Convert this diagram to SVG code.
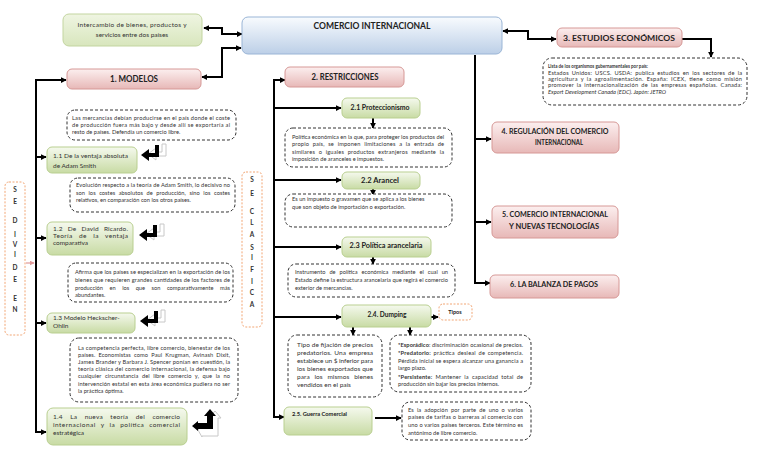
<svg xmlns="http://www.w3.org/2000/svg" width="768" height="466" viewBox="0 0 768 466">
<style>
.t{font-family:Lato,"Open Sans","Liberation Sans",sans-serif;font-size:5.7px;fill:#333}
.l{font-family:Lato,"Open Sans","Liberation Sans",sans-serif;font-size:6.5px;fill:#333}
.h{font-family:Lato,"Open Sans","Liberation Sans",sans-serif;font-weight:bold;fill:#222}
.v{font-family:Lato,"Liberation Sans",sans-serif;font-weight:bold;font-size:6.5px;fill:#333;text-anchor:middle}
.dash{fill:#fff;stroke:#333;stroke-width:1;stroke-dasharray:3 2}
.odash{fill:#fff;stroke:#f2a675;stroke-width:1;stroke-dasharray:2 1.5}
.green{fill:url(#gG);stroke:#b9cf90;stroke-width:1}
.pink{fill:url(#gP);stroke:#d69896;stroke-width:1}
.con{fill:none;stroke:#000;stroke-width:2}
.ba{fill:#000}
.bs{fill:#fff;stroke:#c8c8c8;stroke-width:1}
</style>
<defs>
<linearGradient id="gG" x1="0" y1="0" x2="0" y2="1"><stop offset="0" stop-color="#f5f9ee"/><stop offset="1" stop-color="#c8dba4"/></linearGradient>
<linearGradient id="gI" x1="0" y1="0" x2="0" y2="1"><stop offset="0" stop-color="#eff5e2"/><stop offset="1" stop-color="#d8e6bd"/></linearGradient>
<linearGradient id="gP" x1="0" y1="0" x2="0" y2="1"><stop offset="0" stop-color="#fcefef"/><stop offset="1" stop-color="#e7b8b7"/></linearGradient>
<linearGradient id="gB" x1="0" y1="0" x2="0" y2="1"><stop offset="0" stop-color="#f8fbfe"/><stop offset="1" stop-color="#bccfe7"/></linearGradient>
<marker id="ar" viewBox="0 0 8 8" refX="7" refY="4" markerWidth="6" markerHeight="6" markerUnits="userSpaceOnUse" orient="auto-start-reverse"><path d="M0,0 L8,4 L0,8 Z" fill="#000"/></marker>
<marker id="arp" viewBox="0 0 8 8" refX="7" refY="4" markerWidth="5" markerHeight="5" markerUnits="userSpaceOnUse" orient="auto"><path d="M0,0 L8,4 L0,8 Z" fill="#e09a9a"/></marker>
<path id="bentL" d="M0,10 L8,4 L8,8 L14,8 L14,0 L18,0 L18,12 L8,12 L8,16 Z"/>
</defs>
<rect width="768" height="466" fill="#fff"/>

<g id="connectors">
<path class="con" d="M242,34 H222 V28 H204" marker-start="url(#ar)" marker-end="url(#ar)"/>
<path class="con" d="M202,77 H222 V48 H241" marker-start="url(#ar)" marker-end="url(#ar)"/>
<path class="con" d="M46,432 H36 V80 H66" marker-start="url(#ar)" marker-end="url(#ar)"/>
<path class="con" d="M36,157 H46" marker-end="url(#ar)"/>
<path class="con" d="M36,238 H46" marker-end="url(#ar)"/>
<path class="con" d="M36,323 H46" marker-end="url(#ar)"/>
<path d="M26,263 H34" stroke="#e09a9a" stroke-width="1.2" fill="none" marker-end="url(#arp)"/>
<path class="con" d="M284,417 H274 V80 H285" marker-start="url(#ar)" marker-end="url(#ar)"/>
<path class="con" d="M274,108 H341" marker-end="url(#ar)"/>
<path class="con" d="M274,180 H341" marker-end="url(#ar)"/>
<path class="con" d="M274,247 H341" marker-end="url(#ar)"/>
<path class="con" d="M274,317 H341" marker-end="url(#ar)"/>
<path class="con" d="M373,118 V128" marker-end="url(#ar)"/>
<path class="con" d="M373,189 V195" marker-end="url(#ar)"/>
<path class="con" d="M373,257 V264" marker-end="url(#ar)"/>
<path class="con" d="M353,327 V335" marker-end="url(#ar)"/>
<path class="con" d="M410,327 V335" marker-end="url(#ar)"/>
<path class="con" d="M431,317 H438" marker-end="url(#ar)"/>
<path class="con" d="M375,418 H401" marker-end="url(#ar)"/>
<path class="con" d="M503,31 H528 V39 H556" marker-start="url(#ar)" marker-end="url(#ar)"/>
<path class="con" d="M682,39 H711 V57" marker-end="url(#ar)"/>
<path class="con" d="M475,55 V283 H490" marker-end="url(#ar)"/>
<path class="con" d="M475,139 H491" marker-end="url(#ar)"/>
<path class="con" d="M475,222 H491" marker-end="url(#ar)"/>
</g>

<g id="comercio">
<rect x="242" y="17" width="260" height="37" rx="6" fill="url(#gB)" stroke="#9ab5d6"/>
<text class="h" x="372" y="29" font-size="9.5" text-anchor="middle" textLength="117" lengthAdjust="spacingAndGlyphs">COMERCIO INTERNACIONAL</text>
</g>

<g id="intercambio">
<rect x="63" y="14" width="139" height="32" rx="6" fill="url(#gI)" stroke="#c3d5a0"/>
<text class="l" x="132" y="27" text-anchor="middle" textLength="109" lengthAdjust="spacing">Intercambio de bienes, productos y</text>
<text class="l" x="132" y="37" text-anchor="middle">servicios entre dos países</text>
</g>

<g id="modelos">
<rect class="pink" x="67" y="69" width="134" height="20" rx="5"/>
<text class="h" x="134" y="82" font-size="8.5" text-anchor="middle" textLength="48" lengthAdjust="spacingAndGlyphs">1. MODELOS</text>
</g>

<g id="divide">
<rect class="odash" x="5" y="182" width="20" height="153" rx="4"/>
<text class="v" x="15" y="192">S</text><text class="v" x="15" y="204">E</text>
<text class="v" x="15" y="223">D</text><text class="v" x="15" y="237">I</text>
<text class="v" x="15" y="247">V</text><text class="v" x="15" y="257">I</text>
<text class="v" x="15" y="270">D</text><text class="v" x="15" y="282">E</text>
<text class="v" x="15" y="301">E</text><text class="v" x="15" y="312">N</text>
</g>

<g id="clasifica">
<rect class="odash" x="242" y="172" width="20" height="155" rx="4"/>
<text class="v" x="252" y="182">S</text><text class="v" x="252" y="196">E</text>
<text class="v" x="252" y="214">C</text><text class="v" x="252" y="225">L</text>
<text class="v" x="252" y="237">A</text><text class="v" x="252" y="250">S</text>
<text class="v" x="252" y="260">I</text><text class="v" x="252" y="272">F</text>
<text class="v" x="252" y="284">I</text><text class="v" x="252" y="295">C</text>
<text class="v" x="252" y="307">A</text>
</g>

<g id="desc11">
<rect class="dash" x="67" y="110" width="169" height="30" rx="8"/>
<text class="t" x="72" y="120" textLength="158" lengthAdjust="spacing">Las mercancías debían producirse en el país donde el coste</text>
<text class="t" x="72" y="127" textLength="158" lengthAdjust="spacing">de producción fuera más bajo y desde allí se exportaría al</text>
<text class="t" x="72" y="134">resto de países. Defendía un comercio libre.</text>
</g>
<g id="n11">
<rect class="green" x="47" y="147" width="90" height="26" rx="5"/>
<text class="l" x="53" y="158" textLength="75" lengthAdjust="spacing">1.1  De la ventaja absoluta</text>
<text class="l" x="53" y="168">de Adam Smith</text>
</g>
<g id="arrow11">
<use href="#bentL" x="148" y="144" class="bs"/>
<use href="#bentL" x="141" y="145" class="ba"/>
</g>

<g id="desc12">
<rect class="dash" x="70" y="178" width="165" height="34" rx="8"/>
<text class="t" x="76" y="187" textLength="154" lengthAdjust="spacing">Evolución respecto a la teoría de Adam Smith, lo decisivo no</text>
<text class="t" x="76" y="195" textLength="154" lengthAdjust="spacing" word-spacing="2">son los costes absolutos de producción, sino los costes</text>
<text class="t" x="76" y="202">relativos, en comparación con los otros países.</text>
</g>
<g id="n12">
<rect class="green" x="47" y="222" width="86" height="33" rx="5"/>
<text class="l" x="53" y="231" textLength="75" lengthAdjust="spacing" word-spacing="3.3">1.2 De David Ricardo.</text>
<text class="l" x="53" y="238" textLength="75" lengthAdjust="spacing" word-spacing="4.3">Teoría de la ventaja</text>
<text class="l" x="53" y="245">comparativa</text>
</g>
<g id="arrow12">
<use href="#bentL" x="146" y="224" class="bs"/>
<use href="#bentL" x="139" y="225" class="ba"/>
</g>

<g id="desc13">
<rect class="dash" x="68" y="263" width="165" height="39" rx="8"/>
<text class="t" x="75" y="274" textLength="155" lengthAdjust="spacing">Afirma que los países se especializan en la exportación de los</text>
<text class="t" x="75" y="282" textLength="155" lengthAdjust="spacing">bienes que requieren grandes cantidades de los factores de</text>
<text class="t" x="75" y="290" textLength="155" lengthAdjust="spacing" word-spacing="5">producción en los que son comparativamente más</text>
<text class="t" x="75" y="297">abundantes.</text>
</g>
<g id="n13">
<rect class="green" x="47" y="313" width="88" height="20" rx="5"/>
<text class="l" x="53" y="320">1.3 Modelo Heckscher-</text>
<text class="l" x="53" y="328">Ohlin</text>
</g>
<g id="arrow13">
<use href="#bentL" x="147" y="310" class="bs"/>
<use href="#bentL" x="140" y="311" class="ba"/>
</g>

<g id="desc14">
<rect class="dash" x="70" y="338" width="168" height="64" rx="9"/>
<text class="t" x="78" y="350" textLength="152" lengthAdjust="spacing">La competencia perfecta, libre comercio, bienestar de los</text>
<text class="t" x="78" y="357" textLength="152" lengthAdjust="spacing" word-spacing="1.5">países. Economistas como Paul Krugman, Avinash Dixit,</text>
<text class="t" x="78" y="364" textLength="152" lengthAdjust="spacing">James Brander y Barbara J. Spencer ponían en cuestión,  la</text>
<text class="t" x="78" y="371" textLength="152" lengthAdjust="spacing">teoría clásica del comercio internacional, la defensa bajo</text>
<text class="t" x="78" y="378" textLength="152" lengthAdjust="spacing" word-spacing="2">cualquier circunstancia del libre comercio y, que la no</text>
<text class="t" x="78" y="386" textLength="152" lengthAdjust="spacing">intervención estatal en esta área económica pudiera no ser</text>
<text class="t" x="78" y="393">la práctica óptima.</text>
</g>
<g id="n14">
<rect class="green" x="47" y="408" width="140" height="37" rx="6"/>
<text class="l" x="53" y="419" textLength="127" lengthAdjust="spacing" word-spacing="5.6">1.4 La nueva teoría del comercio</text>
<text class="l" x="53" y="427" textLength="127" lengthAdjust="spacing" word-spacing="3">internacional y la política comercial</text>
<text class="l" x="53" y="435">estratégica</text>
</g>
<g id="arrow14">
<path class="bs" d="M198,430 L202,426 L202,427 L212,427 L212,418 L209,418 L215,411 L221,418 L218,418 L218,436 L202,436 L202,437 Z"/>
<path class="ba" d="M192,426 L198,421 L198,423 L207,423 L207,416 L204,416 L210,409 L216,416 L213,416 L213,429 L198,429 L198,431 Z"/>
</g>

<g id="restricciones">
<rect class="pink" x="285" y="67" width="119" height="20" rx="5"/>
<text class="h" x="345" y="80" font-size="8.5" text-anchor="middle" textLength="67" lengthAdjust="spacingAndGlyphs">2. RESTRICCIONES</text>
</g>

<g id="n21">
<rect class="green" x="342" y="98" width="78" height="20" rx="5"/>
<text class="h" x="380" y="110" font-size="6.5" text-anchor="middle" textLength="59" lengthAdjust="spacingAndGlyphs">2.1 Proteccionismo</text>
</g>
<g id="desc21">
<rect class="dash" x="285" y="128" width="167" height="39" rx="8"/>
<text class="t" x="292" y="139" textLength="152" lengthAdjust="spacing">Política económica en la que, para proteger los productos del</text>
<text class="t" x="292" y="146" textLength="152" lengthAdjust="spacing" word-spacing="2">propio país, se imponen limitaciones a la entrada de</text>
<text class="t" x="292" y="154" textLength="152" lengthAdjust="spacing" word-spacing="2">similares o iguales productos extranjeros mediante la</text>
<text class="t" x="292" y="161">imposición de aranceles e impuestos.</text>
</g>

<g id="n22">
<rect class="green" x="342" y="172" width="78" height="17" rx="5"/>
<text class="h" x="380" y="183" font-size="6.5" text-anchor="middle" textLength="38" lengthAdjust="spacingAndGlyphs">2.2 Arancel</text>
</g>
<g id="desc22">
<rect class="dash" x="285" y="194" width="167" height="33" rx="8"/>
<text class="t" x="292" y="201">Es un impuesto o gravamen que se aplica a los bienes</text>
<text class="t" x="292" y="209">que son objeto de importación o exportación.</text>
</g>

<g id="n23">
<rect class="green" x="342" y="237" width="89" height="20" rx="5"/>
<text class="h" x="386" y="248" font-size="6.5" text-anchor="middle" textLength="73" lengthAdjust="spacingAndGlyphs">2.3 Política arancelaria</text>
</g>
<g id="desc23">
<rect class="dash" x="288" y="264" width="167" height="33" rx="8"/>
<text class="t" x="295" y="274" textLength="153" lengthAdjust="spacing" word-spacing="2.5">Instrumento de política económica mediante el cual un</text>
<text class="t" x="295" y="282" textLength="153" lengthAdjust="spacing">Estado define la estructura arancelaria que regirá el comercio</text>
<text class="t" x="295" y="290">exterior de mercancías.</text>
</g>

<g id="n24">
<rect class="green" x="342" y="305" width="89" height="22" rx="5"/>
<text class="h" x="387" y="317" font-size="6.5" text-anchor="middle" textLength="39" lengthAdjust="spacingAndGlyphs">2.4. Dumping</text>
</g>
<g id="tipos">
<rect class="odash" x="439" y="304" width="33" height="16" rx="4"/>
<text class="h" x="455" y="314" font-size="5.5" text-anchor="middle">Tipos</text>
</g>
<g id="desc24a">
<rect class="dash" x="288" y="335" width="94" height="62" rx="9"/>
<text class="l" x="297" y="347" textLength="76" lengthAdjust="spacing">Tipo de fijación de precios</text>
<text class="l" x="297" y="355" textLength="76" lengthAdjust="spacing" word-spacing="1">predatorios. Una empresa</text>
<text class="l" x="297" y="363" textLength="76" lengthAdjust="spacing">establece un $ inferior para</text>
<text class="l" x="297" y="371" textLength="76" lengthAdjust="spacing">los bienes exportados que</text>
<text class="l" x="297" y="379" textLength="76" lengthAdjust="spacing" word-spacing="3">para los mismos bienes</text>
<text class="l" x="297" y="387">vendidos en el país</text>
</g>
<g id="desc24b">
<rect class="dash" x="390" y="335" width="141" height="57" rx="9"/>
<text class="t" x="398" y="347" textLength="125" lengthAdjust="spacing"><tspan font-weight="bold">*Esporádico</tspan>: discriminación ocasional de precios.</text>
<text class="t" x="398" y="355" textLength="125" lengthAdjust="spacing" word-spacing="1"><tspan font-weight="bold">*Predatorio:</tspan> práctica desleal de competencia.</text>
<text class="t" x="398" y="363" textLength="125" lengthAdjust="spacing">Pérdida inicial se espera alcanzar una ganancia a</text>
<text class="t" x="398" y="370">largo plazo.</text>
<text class="t" x="398" y="379" textLength="125" lengthAdjust="spacing" word-spacing="1.5"><tspan font-weight="bold">*Persistente:</tspan> Mantener la capacidad total de</text>
<text class="t" x="398" y="386">producción sin bajar los precios internos.</text>
</g>

<g id="n25">
<rect class="green" x="284" y="407" width="88" height="28" rx="5"/>
<text class="h" x="292" y="416" font-size="5.8" textLength="55" lengthAdjust="spacingAndGlyphs">2.5. Guerra Comercial</text>
</g>
<g id="desc25">
<rect class="dash" x="402" y="402" width="129" height="38" rx="8"/>
<text class="t" x="408" y="412" textLength="115" lengthAdjust="spacing" word-spacing="1.5">Es la adopción por parte de uno o varios</text>
<text class="t" x="408" y="419" textLength="115" lengthAdjust="spacing">países de tarifas o barreras al comercio con</text>
<text class="t" x="408" y="427" textLength="115" lengthAdjust="spacing">uno o varios países terceros. Este término es</text>
<text class="t" x="408" y="435">antónimo de libre comercio.</text>
</g>

<g id="estudios">
<rect class="pink" x="557" y="28" width="125" height="19" rx="5"/>
<text class="h" x="619" y="41" font-size="8.3" text-anchor="middle" fill="#3a1c1c" textLength="112" lengthAdjust="spacingAndGlyphs">3. ESTUDIOS ECONÓMICOS</text>
</g>
<g id="desc3">
<rect class="dash" x="543" y="58" width="204" height="47" rx="9"/>
<text class="t" x="548" y="68" font-weight="bold" font-size="5.2" textLength="100" lengthAdjust="spacingAndGlyphs">Lista de los organismos gubernamentales por país:</text>
<text class="t" x="548" y="75" textLength="194" lengthAdjust="spacing" word-spacing="1.3">Estados Unidos: USCS. USDA: publica estudios en los sectores de la</text>
<text class="t" x="548" y="81" textLength="194" lengthAdjust="spacing" word-spacing="1.3">agricultura y la agroalimentación. España: ICEX, tiene como misión</text>
<text class="t" x="548" y="87" textLength="194" lengthAdjust="spacing" word-spacing="1.3">promover la internacionalización de las empresas españolas.   Canada:</text>
<text class="t" x="548" y="94" font-style="italic">Export Development Canada (EDC).  Japón: JETRO</text>
</g>

<g id="regulacion">
<rect class="pink" x="492" y="122" width="127" height="31" rx="5"/>
<text class="h" x="555" y="134" font-size="7.3" text-anchor="middle" textLength="107" lengthAdjust="spacingAndGlyphs">4. REGULACIÓN DEL COMERCIO</text>
<text class="h" x="559" y="145" font-size="7.3" text-anchor="middle" textLength="48" lengthAdjust="spacingAndGlyphs">INTERNACIONAL</text>
</g>
<g id="tecnologias">
<rect class="pink" x="492" y="206" width="126" height="32" rx="5"/>
<text class="h" x="555" y="217" font-size="7.3" text-anchor="middle" textLength="106" lengthAdjust="spacingAndGlyphs">5. COMERCIO INTERNACIONAL</text>
<text class="h" x="554" y="229" font-size="7.3" text-anchor="middle" textLength="90" lengthAdjust="spacingAndGlyphs">Y NUEVAS TECNOLOGÍAS</text>
</g>
<g id="balanza">
<rect class="pink" x="490" y="275" width="129" height="23" rx="5"/>
<text class="h" x="554" y="287" font-size="7.3" text-anchor="middle" textLength="88" lengthAdjust="spacingAndGlyphs">6. LA BALANZA DE PAGOS</text>
</g>
</svg>
